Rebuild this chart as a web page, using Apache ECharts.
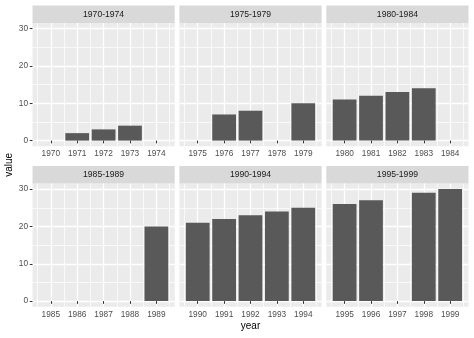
<!DOCTYPE html>
<html>
<head>
<meta charset="utf-8">
<script src="https://cdn.jsdelivr.net/npm/echarts@6/dist/echarts.min.js"></script>
<style>
  html, body { margin: 0; padding: 0; background: #fff; }
  #chart { width: 474px; height: 338px; }
</style>
</head>
<body>
<div id="chart"></div>
<script>
// One facet per five-year block; null means no bar for that year.
const facetTitles = ['1970-1974', '1975-1979', '1980-1984', '1985-1989', '1990-1994', '1995-1999'];
const facetYears = [
  [1970, 1971, 1972, 1973, 1974],
  [1975, 1976, 1977, 1978, 1979],
  [1980, 1981, 1982, 1983, 1984],
  [1985, 1986, 1987, 1988, 1989],
  [1990, 1991, 1992, 1993, 1994],
  [1995, 1996, 1997, 1998, 1999]
];
const facetValues = [
  [null, 2, 3, 4, null],
  [null, 7, 8, null, 10],
  [11, 12, 13, 14, null],
  [null, null, null, null, 20],
  [21, 22, 23, 24, 25],
  [26, 27, null, 29, 30]
];
const yTicks = [0, 10, 20, 30];
const yMinorTicks = [5, 15, 25];

// Layout of the 3 x 2 panel grid
const FONT = '"Liberation Sans", Arial, sans-serif';
const panelLeft = 32.5, panelW = 142.2, gapX = 4.7;
const rowTops = [23, 183.5], panelH = 123.2, stripH = 17.5;
const BAR_HALF = 0.45, EXPAND = 0.245;   // bar half-width and 5% range padding, in years

const chart = echarts.init(document.getElementById('chart'), null, { renderer: 'canvas' });

const grids = [], xAxes = [], yAxes = [], series = [], graphics = [];

facetTitles.forEach((title, i) => {
  const col = i % 3, row = Math.floor(i / 3);
  const left = panelLeft + col * (panelW + gapX);
  const top = rowTops[row];
  const yrs = facetYears[i];
  const xMin = yrs[0] - BAR_HALF - EXPAND;
  const xMax = yrs[yrs.length - 1] + BAR_HALF + EXPAND;
  const xMinor = [yrs[0] - 0.5].concat(yrs.map(y => y + 0.5));

  grids.push({
    left: left, top: top, width: panelW, height: panelH,
    show: true, backgroundColor: '#EBEBEB', borderWidth: 0
  });

  // major x axis: ticks, labels and gridlines at each year
  xAxes.push({
    gridIndex: i, type: 'value', min: xMin, max: xMax,
    axisLine: { show: false },
    axisTick: { show: true, length: 2.75, lineStyle: { color: '#333333', width: 1 }, customValues: yrs },
    axisLabel: {
      customValues: yrs, color: '#4D4D4D', fontSize: 8.3, fontFamily: FONT, margin: 3.8,
      formatter: v => String(v)
    },
    splitLine: { show: true, lineStyle: { color: '#FFFFFF', width: 1.3 } }
  });
  // minor x gridlines half-way between years
  xAxes.push({
    gridIndex: i, type: 'value', min: xMin, max: xMax,
    axisLine: { show: false },
    axisTick: { show: false, customValues: xMinor },
    axisLabel: { show: false, customValues: xMinor },
    splitLine: { show: true, lineStyle: { color: '#FFFFFF', width: 0.7 } }
  });

  const showY = col === 0;
  yAxes.push({
    gridIndex: i, type: 'value', min: -1.5, max: 31.5,
    axisLine: { show: false },
    axisTick: { show: showY, length: 2.75, lineStyle: { color: '#333333', width: 1 }, customValues: yTicks },
    axisLabel: {
      show: showY, customValues: yTicks, color: '#4D4D4D', fontSize: 8.3, fontFamily: FONT, margin: 4.5
    },
    splitLine: { show: true, lineStyle: { color: '#FFFFFF', width: 1.3 } }
  });
  yAxes.push({
    gridIndex: i, type: 'value', min: -1.5, max: 31.5, position: 'left',
    axisLine: { show: false },
    axisTick: { show: false, customValues: yMinorTicks },
    axisLabel: { show: false, customValues: yMinorTicks },
    splitLine: { show: true, lineStyle: { color: '#FFFFFF', width: 0.7 } }
  });

  series.push({
    type: 'bar',
    xAxisIndex: i * 2, yAxisIndex: i * 2,
    barWidth: '90%',
    itemStyle: { color: '#595959' },
    data: yrs.map((y, k) => [y, facetValues[i][k]])
  });

  // strip with the facet title
  graphics.push({
    type: 'rect', silent: true,
    shape: { x: left, y: top - stripH, width: panelW, height: stripH },
    style: { fill: '#D9D9D9' }
  });
  graphics.push({
    type: 'text', silent: true,
    x: left + panelW / 2, y: top - stripH / 2,
    style: { text: title, fill: '#1A1A1A', font: '8.6px ' + FONT, textAlign: 'center', textVerticalAlign: 'middle' }
  });
});

// axis titles
const plotMidX = panelLeft + (3 * panelW + 2 * gapX) / 2;
const plotMidY = (rowTops[0] + rowTops[1] + panelH) / 2;
graphics.push({
  type: 'text', silent: true, x: plotMidX, y: 326,
  style: { text: 'year', fill: '#000000', font: '10px ' + FONT, textAlign: 'center', textVerticalAlign: 'middle' }
});
graphics.push({
  type: 'text', silent: true, x: 9, y: plotMidY, rotation: Math.PI / 2,
  style: { text: 'value', fill: '#000000', font: '10px ' + FONT, textAlign: 'center', textVerticalAlign: 'middle' }
});

chart.setOption({
  animation: false,
  backgroundColor: '#FFFFFF',
  grid: grids,
  xAxis: xAxes,
  yAxis: yAxes,
  series: series,
  graphic: graphics
});
</script>
</body>
</html>
